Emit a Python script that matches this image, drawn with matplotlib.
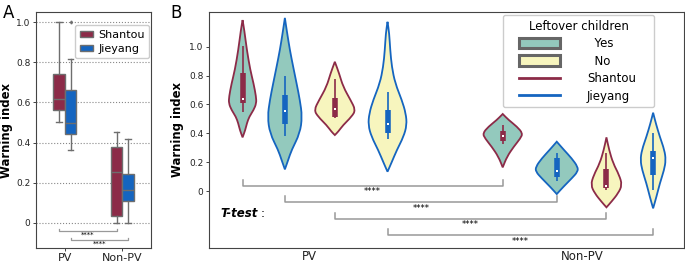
import matplotlib
matplotlib.use('Agg')
import matplotlib.pyplot as plt
from matplotlib.patches import Patch, PathPatch
from matplotlib.lines import Line2D
from matplotlib.path import Path
from matplotlib.legend_handler import HandlerPatch, HandlerLine2D

SHANTOU = '#8C2B48'
JIEYANG = '#1565C0'
TEAL = '#93C9BD'
YELLOW = '#F7F5BE'
GREY = '#999999'

# ---- panel A: box plot summaries
cities = ['Shantou', 'Jieyang']
regions = ['PV', 'Non-PV']
box_med = [[0.618, 0.499], [0.252, 0.163]]
box_q1 = [[0.560, 0.441], [0.035, 0.108]]
box_q3 = [[0.741, 0.660], [0.380, 0.245]]
box_lo = [[0.504, 0.363], [0.0, 0.0]]
box_hi = [[1.0, 0.814], [0.453, 0.419]]
box_fliers = [[[], [1.0]], [[], []]]

# ---- panel B: violin outlines (value, half width in px)
# order: PV Shantou Yes, PV Jieyang Yes, PV Shantou No, PV Jieyang No, then Non-PV same order
v_y = [
    [1.185, 1.116, 0.977, 0.839, 0.746, 0.654, 0.608, 0.561, 0.515, 0.469, 0.423, 0.372],
    [1.20, 1.093, 0.977, 0.861, 0.746, 0.631, 0.515, 0.40, 0.284, 0.215, 0.15],
    [0.896, 0.815, 0.723, 0.631, 0.561, 0.515, 0.457, 0.411, 0.388],
    [1.173, 1.093, 0.977, 0.861, 0.746, 0.631, 0.538, 0.457, 0.376, 0.284, 0.192, 0.134],
    [0.534, 0.492, 0.446, 0.40, 0.365, 0.307, 0.238, 0.164],
    [0.342, 0.284, 0.226, 0.168, 0.134, 0.088, 0.03, -0.021],
    [0.372, 0.284, 0.192, 0.111, 0.042, -0.016, -0.074, -0.113],
    [0.543, 0.469, 0.376, 0.284, 0.215, 0.146, 0.053, -0.04, -0.12],
]
v_w = [
    [0, 1.7, 4.3, 7.7, 11.0, 13.5, 13.8, 11.0, 6.7, 4.3, 2.7, 0],
    [0, 2.3, 5.0, 8.3, 11.7, 15.0, 17.3, 15.0, 6.7, 3.3, 0],
    [0, 4.3, 8.3, 15.7, 20.8, 16.7, 8.3, 3.3, 0],
    [0, 1.7, 2.7, 4.3, 7.7, 14.3, 18.3, 19.3, 16.0, 9.3, 3.7, 0],
    [0, 6.0, 14.3, 20.0, 17.7, 11.0, 4.3, 0],
    [0, 7.3, 15.0, 21.0, 21.0, 15.0, 6.7, 0],
    [0, 2.7, 6.7, 12.7, 15.7, 11.7, 5.0, 0],
    [0, 2.7, 6.7, 11.3, 12.7, 11.0, 6.7, 3.3, 0],
]
v_city = [0, 1, 0, 1, 0, 1, 0, 1]
v_left = [1, 1, 0, 0, 1, 1, 0, 0]  # 1 = leftover children yes
v_whislo = [0.55, 0.381, 0.504, 0.358, 0.326, 0.069, 0.007, 0.007]
v_whishi = [1.005, 0.797, 0.776, 0.688, 0.457, 0.266, 0.261, 0.404]
v_q1 = [0.612, 0.462, 0.515, 0.404, 0.349, 0.099, 0.019, 0.111]
v_q3 = [0.82, 0.665, 0.642, 0.561, 0.416, 0.231, 0.150, 0.279]
v_med = [0.64, 0.556, 0.57, 0.464, 0.381, 0.141, 0.035, 0.226]

# T-test pairs (violin index) and bracket levels
pairs = [(0, 4), (1, 5), (2, 6), (3, 7)]
pair_level = [0.037, -0.076, -0.192, -0.307]

plt.rcParams['font.family'] = 'DejaVu Sans'
fig = plt.figure(figsize=(6.85, 2.63), dpi=100)

# ================= panel A
axA = fig.add_axes([0.0526, 0.057, 0.168, 0.897])
stats = []
pos = []
cols = []
for r in range(2):
    for c in range(2):
        stats.append(dict(med=box_med[r][c], q1=box_q1[r][c], q3=box_q3[r][c],
                          whislo=box_lo[r][c], whishi=box_hi[r][c],
                          fliers=box_fliers[r][c]))
        pos.append(r + (-0.1 if c == 0 else 0.1))
        cols.append(SHANTOU if c == 0 else JIEYANG)
bp = axA.bxp(stats, positions=pos, widths=0.2, patch_artist=True, zorder=3,
             boxprops=dict(edgecolor='#6e6e6e', linewidth=1.0),
             whiskerprops=dict(color='#6e6e6e', linewidth=1.0),
             capprops=dict(color='#6e6e6e', linewidth=1.0),
             medianprops=dict(color='#6e6e6e', linewidth=1.0),
             flierprops=dict(marker='d', markersize=1.5, markerfacecolor='#6e6e6e',
                             markeredgecolor='#6e6e6e'))
for b, c in zip(bp['boxes'], cols):
    b.set_facecolor(c)
axA.set_xlim(-0.5, 1.5)
axA.set_ylim(-0.125, 1.05)
axA.set_xticks([0, 1])
axA.set_xticklabels(regions, fontsize=8)
axA.set_yticks([0, 0.2, 0.4, 0.6, 0.8, 1.0])
axA.set_yticklabels(['0', '0.2', '0.4', '0.6', '0.8', '1.0'], fontsize=6.5)
axA.yaxis.grid(True, linestyle=':', color='#888888', linewidth=0.8, zorder=0)
axA.set_axisbelow(True)
axA.tick_params(length=2, width=0.6, pad=2, colors='#222222')
axA.tick_params(axis='x', pad=1.5)
axA.set_ylabel('Warning index', fontsize=8.4, fontweight='bold', labelpad=2)
for s in axA.spines.values():
    s.set_color('#444444')
    s.set_linewidth(0.8)
for (x0, x1, yl) in [(-0.1, 0.9, -0.04), (0.1, 1.1, -0.085)]:
    axA.plot([x0, x0, x1, x1], [yl + 0.012, yl, yl, yl + 0.012], color=GREY, lw=0.9)
    axA.text((x0 + x1) / 2, yl - 0.003, '****', ha='center', va='top', fontsize=5)
axA.legend(handles=[Patch(facecolor=SHANTOU, edgecolor='#6e6e6e', label='Shantou'),
                    Patch(facecolor=JIEYANG, edgecolor='#6e6e6e', label='Jieyang')],
           loc='upper right', bbox_to_anchor=(0.985, 0.945), borderaxespad=0,
           fontsize=8, handlelength=1.2, handleheight=0.45, handletextpad=0.5,
           borderpad=0.4, labelspacing=0.4, framealpha=1, edgecolor='#cccccc')
fig.text(0.004, 0.985, 'A', fontsize=12, va='top', ha='left')

# ================= panel B
axB = fig.add_axes([0.3051, 0.057, 0.6934, 0.8985])
offsets = [-0.243, -0.088, 0.095, 0.288, -0.29, -0.092, 0.09, 0.261]
px_per_unit = 273.0
vx = [(0 if i < 4 else 1) + offsets[i] for i in range(8)]


def violin_path(x, ys, ws):
    ws = [w / px_per_unit for w in ws]
    n = len(ys)
    # right side top->bottom, left side bottom->top, tips doubled
    pts = [(x, ys[0]), (x, ys[0])]
    pts += [(x + ws[k], ys[k]) for k in range(1, n - 1)]
    pts += [(x, ys[-1]), (x, ys[-1])]
    pts += [(x - ws[k], ys[k]) for k in range(n - 2, 0, -1)]
    m = len(pts)
    mids = [((pts[k][0] + pts[(k + 1) % m][0]) / 2, (pts[k][1] + pts[(k + 1) % m][1]) / 2)
            for k in range(m)]
    verts = [mids[-1]]
    codes = [Path.MOVETO]
    for k in range(m):
        verts += [pts[k], mids[k]]
        codes += [Path.CURVE3, Path.CURVE3]
    return Path(verts, codes)


for i in range(8):
    col = SHANTOU if v_city[i] == 0 else JIEYANG
    fc = TEAL if v_left[i] == 1 else YELLOW
    axB.add_patch(PathPatch(violin_path(vx[i], v_y[i], v_w[i]), facecolor=fc,
                            edgecolor=col, lw=1.3, zorder=2))
    axB.plot([vx[i], vx[i]], [v_whislo[i], v_whishi[i]], color=col, lw=1.2,
             solid_capstyle='butt', zorder=3)
    axB.plot([vx[i], vx[i]], [v_q1[i], v_q3[i]], color=col, lw=4,
             solid_capstyle='butt', zorder=3)
    axB.plot([vx[i]], [v_med[i]], marker='s', markersize=1.8, color='white',
             markeredgewidth=0, zorder=4)

for (a, b), yl in zip(pairs, pair_level):
    axB.plot([vx[a], vx[a], vx[b], vx[b]], [yl + 0.042, yl, yl, yl + 0.042],
             color=GREY, lw=1.1)
    axB.text((vx[a] + vx[b]) / 2, yl - 0.012, '****', ha='center', va='top', fontsize=6)

axB.text(-0.323, -0.154, 'T-test', fontsize=8.5, fontweight='bold', style='italic',
         ha='left', va='center')
axB.text(-0.178, -0.154, ':', fontsize=8.5, ha='left', va='center')

axB.set_xlim(-0.366, 1.374)
axB.set_ylim(-0.395, 1.243)
axB.set_xticks([0, 1])
axB.set_xticklabels(regions, fontsize=8.5)
axB.set_yticks([0, 0.2, 0.4, 0.6, 0.8, 1.0])
axB.set_yticklabels(['0', '0.2', '0.4', '0.6', '0.8', '1.0'], fontsize=6.5)
axB.tick_params(length=2, width=0.6, pad=2, colors='#222222')
axB.tick_params(axis='x', length=0, pad=1.5)
axB.set_ylabel('Warning index', fontsize=8.4, fontweight='bold', labelpad=4)
for s in axB.spines.values():
    s.set_color('#444444')
    s.set_linewidth(0.8)

handlesB = [Patch(facecolor=TEAL, edgecolor='#666666', lw=2.2, label='  Yes'),
            Patch(facecolor=YELLOW, edgecolor='#666666', lw=2.2, label='  No'),
            Line2D([], [], color=SHANTOU, lw=2, label='Shantou'),
            Line2D([], [], color=JIEYANG, lw=2, label='Jieyang')]
legB = axB.legend(handles=handlesB, title='Leftover children', title_fontsize=8.5,
                  fontsize=8.5, loc='upper left', mode='expand',
                  bbox_to_anchor=(0.619, 0.0, 0.318, 0.986),
                  borderaxespad=0, handlelength=4.4, handleheight=1.0,
                  handletextpad=2.3, labelspacing=0.38, borderpad=0.4,
                  framealpha=1, edgecolor='#cccccc',
                  handler_map={Patch: HandlerPatch(xpad=0.93),
                               Line2D: HandlerLine2D(xpad=0.93)})
fig.text(0.249, 0.985, 'B', fontsize=12, va='top', ha='left')

fig.savefig('out.png', dpi=100)
